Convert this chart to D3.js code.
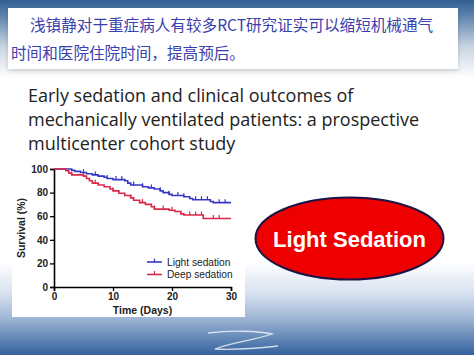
<!DOCTYPE html>
<html lang="zh">
<head>
<meta charset="utf-8">
<title>Light sedation</title>
<script src="https://d3js.org/d3.v7.min.js"></script>
<style>
  body { margin: 0; background: #fff; }
  svg { display: block; }
</style>
</head>
<body>
<script>
// Kaplan-Meier steps: [day, survival %]
var lightSteps = [[0,100],[3,99],[3.5,98],[4.5,97],[5.5,96],[6.5,95],[7.5,94],[8.5,93],[9,92],[10,91],[12,90],
  [12.5,88],[13,86.5],[15,85],[16,84],[17,83],[18,81.5],[18.5,80],[19.5,78.5],[20,77.5],[22,76.5],[23,75],
  [23.5,74],[26.5,72.5],[27,71.5],[30,71.5]];
var deepSteps = [[0,100],[2,98.5],[2.5,96.5],[3,95],[5,94],[5.5,92],[6,90],[6.5,88],[7.5,86.5],[8.5,85],[9.5,83],
  [10,81.5],[11,79.5],[12,77.5],[13,75.5],[13.5,73.5],[14.5,71.5],[15.5,70],[16.5,68],[17,66],[19.5,65],
  [20.5,64],[21.5,62],[22,61],[25.3,58],[30,58]];
var lightCensor = [5,7,9,10.5,11.5,13.5,15,16.5,18,19.5,21,22,24,25,26,28,29];
var deepCensor = [3,5,7,10,13,15,17,18.5,20,23,24,25,27,28];
var xTicks = [0,10,20,30];
var yTicks = [0,20,40,60,80,100];
var legendNames = ["Light sedation", "Deep sedation"];
var headLines = ["浅镇静对于重症病人有较多RCT研究证实可以缩短机械通气", "时间和医院住院时间，提高预后。"];
var titleLines = ["Early sedation and clinical outcomes of", "mechanically ventilated patients: a prospective", "multicenter cohort study"];
var badge = "Light Sedation";

var W = 474, H = 355;
var svg = d3.select('body').append('svg').attr('width', W).attr('height', H);
var defs = svg.append('defs');

// slide background
var gTop = defs.append('linearGradient').attr('id', 'gTop').attr('x1', 0).attr('y1', 0).attr('x2', 0).attr('y2', 1);
gTop.append('stop').attr('offset', '0%').attr('stop-color', '#2f5f92');
gTop.append('stop').attr('offset', '20%').attr('stop-color', '#5d83ad');
gTop.append('stop').attr('offset', '60%').attr('stop-color', '#c9d5e2');
gTop.append('stop').attr('offset', '100%').attr('stop-color', '#ffffff');
var gBot = defs.append('linearGradient').attr('id', 'gBot').attr('x1', 0).attr('y1', 0).attr('x2', 0).attr('y2', 1);
gBot.append('stop').attr('offset', '0%').attr('stop-color', '#ffffff');
gBot.append('stop').attr('offset', '35%').attr('stop-color', '#d6e0ef');
gBot.append('stop').attr('offset', '60%').attr('stop-color', '#9fb6d6');
gBot.append('stop').attr('offset', '100%').attr('stop-color', '#33629e');

svg.append('rect').attr('width', W).attr('height', H).attr('fill', '#fff');
svg.append('rect').attr('x', 0).attr('y', 0).attr('width', W).attr('height', 78).attr('fill', 'url(#gTop)');
svg.append('rect').attr('x', 0).attr('y', 262).attr('width', W).attr('height', 93).attr('fill', 'url(#gBot)');
// light streak on the sea
svg.append('path').attr('d', 'M208,333 C230,330 260,331 272,334 C255,340 230,343 215,349 C235,350 260,348 278,346')
  .attr('fill', 'none').attr('stroke', 'rgba(255,255,255,0.75)').attr('stroke-width', 1.3);

// header box
svg.append('rect').attr('x', 8).attr('y', 8).attr('width', 450).attr('height', 61)
  .attr('fill', '#fff').style('filter', 'drop-shadow(0px 2px 2px rgba(0,0,0,0.15))');
svg.selectAll('text.head').data(headLines).enter().append('text')
  .attr('class', 'head')
  .attr('x', function(d, i){ return i === 0 ? 30 : 11; })
  .attr('y', function(d, i){ return 31 + i * 28; })
  .attr('font-family', '"Noto Sans CJK SC", sans-serif')
  .attr('font-size', 15.6)
  .attr('fill', '#3a40ad')
  .text(function(d){ return d; });

// article title
svg.selectAll('text.title').data(titleLines).enter().append('text')
  .attr('class', 'title')
  .attr('x', 28)
  .attr('y', function(d, i){ return 102 + i * 24; })
  .attr('font-family', '"Open Sans", sans-serif')
  .attr('font-size', 18)
  .attr('fill', '#222')
  .text(function(d){ return d; });

// chart panel
svg.append('rect').attr('x', 12).attr('y', 155).attr('width', 233).attr('height', 162).attr('fill', '#fff');

var x = d3.scaleLinear().domain([0, 30]).range([54, 231]);
var y = d3.scaleLinear().domain([0, 100]).range([287, 169]);

var font = '"Liberation Sans", Arial, sans-serif';
var yAxis = svg.append('g').attr('transform', 'translate(' + x(0) + ',0)')
  .call(d3.axisLeft(y).tickValues(yTicks).tickSize(4).tickPadding(2));
var xAxis = svg.append('g').attr('transform', 'translate(0,' + y(0) + ')')
  .call(d3.axisBottom(x).tickValues(xTicks).tickSize(4).tickPadding(2));
[xAxis, yAxis].forEach(function(a){
  a.select('.domain').attr('stroke', '#000').attr('stroke-width', 1.6);
  a.selectAll('.tick line').attr('stroke', '#000').attr('stroke-width', 1.3);
  a.selectAll('.tick text').attr('font-family', font).attr('font-size', 10)
    .attr('font-weight', 'bold').attr('fill', '#222');
});

svg.append('text').attr('transform', 'translate(25,' + y(50) + ') rotate(-90)')
  .attr('text-anchor', 'middle').attr('font-family', font).attr('font-size', 10.5)
  .attr('font-weight', 'bold').attr('fill', '#222').text('Survival (%)');
svg.append('text').attr('x', x(15)).attr('y', 314)
  .attr('text-anchor', 'middle').attr('font-family', font).attr('font-size', 10.5)
  .attr('font-weight', 'bold').attr('fill', '#222').text('Time (Days)');

var line = d3.line().curve(d3.curveStepAfter)
  .x(function(d){ return x(d[0]); })
  .y(function(d){ return y(d[1]); });

function survAt(steps, day) {
  var s = steps[0][1];
  steps.forEach(function(p){ if (p[0] <= day) s = p[1]; });
  return s;
}

var series = [
  {name: legendNames[0], steps: lightSteps, censor: lightCensor, color: '#3636c4'},
  {name: legendNames[1], steps: deepSteps, censor: deepCensor, color: '#d8284a'}
];

series.forEach(function(s, i){
  svg.append('path').datum(s.steps)
    .attr('fill', 'none').attr('stroke', s.color).attr('stroke-width', 1.6)
    .attr('d', line);
  svg.selectAll('line.c' + i).data(s.censor).enter().append('line')
    .attr('x1', function(d){ return x(d); }).attr('x2', function(d){ return x(d); })
    .attr('y1', function(d){ return y(survAt(s.steps, d)); })
    .attr('y2', function(d){ return y(survAt(s.steps, d)) - 3.5; })
    .attr('stroke', s.color).attr('stroke-width', 1.2);

  var ly = 262 + i * 12.5;
  svg.append('line').attr('x1', 147).attr('x2', 162).attr('y1', ly).attr('y2', ly)
    .attr('stroke', s.color).attr('stroke-width', 1.6);
  svg.append('line').attr('x1', 154.5).attr('x2', 154.5).attr('y1', ly).attr('y2', ly - 3.5)
    .attr('stroke', s.color).attr('stroke-width', 1.2);
  svg.append('text').attr('x', 167).attr('y', ly + 3.5)
    .attr('font-family', font).attr('font-size', 10.2).attr('fill', '#222')
    .text(s.name);
});

// badge
svg.append('ellipse').attr('cx', 349.5).attr('cy', 238.5).attr('rx', 94).attr('ry', 41)
  .attr('fill', '#ee0000').attr('stroke', '#1c1446').attr('stroke-width', 2);
svg.append('text').attr('x', 349.5).attr('y', 246.5).attr('text-anchor', 'middle')
  .attr('font-family', font).attr('font-size', 22).attr('font-weight', 'bold')
  .attr('fill', '#fff').text(badge);
</script>
</body>
</html>
